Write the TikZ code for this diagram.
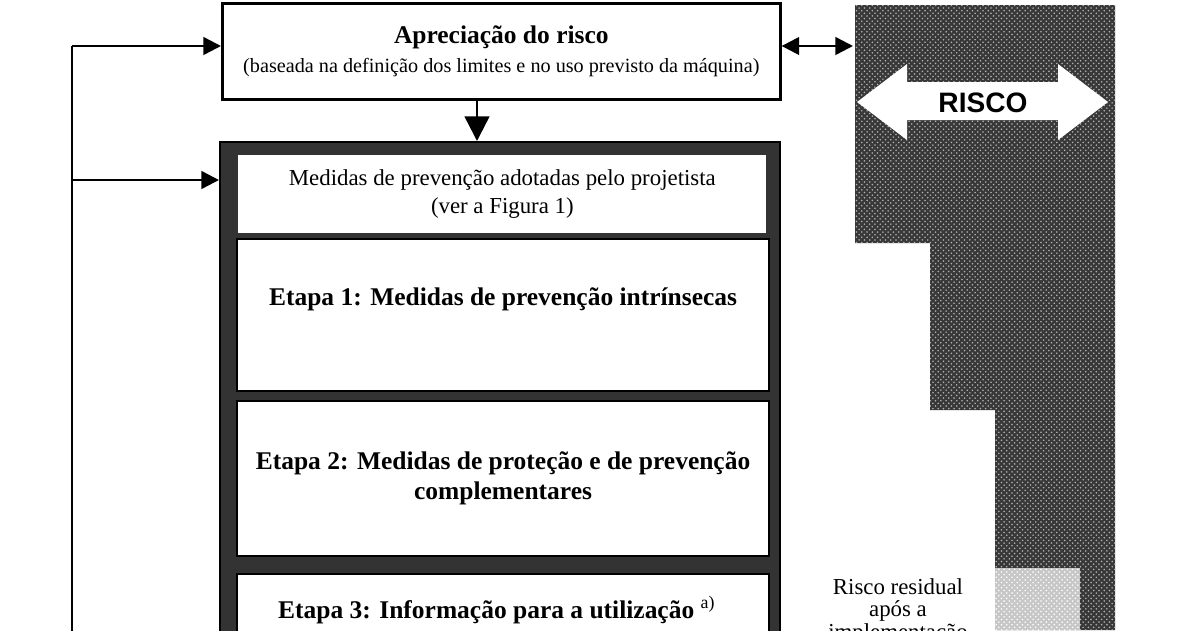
\documentclass[tikz,border=0pt]{standalone}
\usepackage{fontspec}
\setmainfont{Liberation Serif}
\newfontfamily\riscofont{Liberation Sans}
\usetikzlibrary{arrows.meta,patterns}
\begin{document}
\begin{tikzpicture}[x=0.02cm,y=-0.02cm,
  inbox/.style={draw=black,line width=1.2pt,fill=white,minimum width=532*0.02cm,inner sep=0pt},
  conn/.style={line width=1.4pt,-{Triangle[length=10pt,width=10pt]}},
  hatch/.style={fill=black!78}]
\useasboundingbox (0,0) rectangle (1200,630);
\fill[white] (0,0) rectangle (1200,630);
% hatched risk
\fill[hatch] (855,5) -- (1115,5) -- (1115,630) -- (995,630) -- (995,410) -- (930,410) -- (930,243) -- (855,243) -- cycle;
\fill[pattern=crosshatch dots,pattern color=white!70!black] (855,5) -- (1115,5) -- (1115,630) -- (995,630) -- (995,410) -- (930,410) -- (930,243) -- (855,243) -- cycle;
\fill[black!22] (995,568) rectangle (1080,630);
\fill[pattern=crosshatch dots,pattern color=white] (995,568) rectangle (1080,630);
% RISCO arrow
\fill[white] (857,102) -- (907,64) -- (907,82) -- (1058,82) -- (1058,64) -- (1108,102) -- (1058,140) -- (1058,120) -- (907,120) -- (907,140) -- cycle;
\node[font=\riscofont\bfseries\fontsize{16}{20}\selectfont] (risco) at (983,103) {RISCO};
\coordinate (hatchL) at (853,46);
% top box
\node[draw,line width=1.5pt,fill=white,minimum width=558*0.02cm,minimum height=96*0.02cm,anchor=north west,inner sep=0pt,align=center] (apr) at (221,2)
 {{\bfseries\fontsize{14.5}{17}\selectfont Apreciação do risco}\\[4pt]{\fontsize{11.5}{14}\selectfont(baseada na definição dos limites e no uso previsto da máquina)}};
% outer dark box
\fill[black!80,draw=black,line width=1pt] (220,142) rectangle (780,640);
\node[fill=white,minimum width=528*0.02cm,minimum height=78*0.02cm,anchor=north west,inner sep=0pt,align=center,font=\fontsize{13}{16}\selectfont] (med) at (238,155)
 {Medidas de prevenção adotadas pelo projetista\\(ver a Figura 1)};
\node[inbox,minimum height=152*0.02cm,anchor=north west,align=center,font=\bfseries\fontsize{14.5}{21}\selectfont] (e1) at (236,238) {Etapa 1: Medidas de prevenção intrínsecas\\[0pt]};
\node[inbox,minimum height=155*0.02cm,anchor=north west,align=center,font=\bfseries\fontsize{14.5}{17}\selectfont] (e2) at (236,400) {Etapa 2: Medidas de proteção e de prevenção\\complementares};
\node[inbox,minimum height=70*0.02cm,anchor=north west] (e3) at (236,573) {};
\node[anchor=west,font=\bfseries\fontsize{14.5}{21}\selectfont] (e3t) at (272,610) {Etapa 3: Informação para a utilização \textsuperscript{\mdseries a)}};
% connectors
\coordinate (aprb) at (477,98);
\draw[line width=1.4pt,-{Triangle[length=14pt,width=14pt]}] (aprb) -- (477,141);
\coordinate (fb0) at (72,640);
\coordinate (fb1) at (72,46);
\coordinate (fb2) at (72,180);
\draw[line width=1.4pt] (fb0) -- (fb1);
\draw[conn] (fb1) -- (apr.west |- fb1);
\draw[conn] (fb2) -- (219,180);
\draw[line width=1.4pt,{Triangle[length=10pt,width=10pt]}-{Triangle[length=10pt,width=10pt]}] (apr.east |- hatchL) -- (hatchL);
% residual text
\node[align=center,font=\fontsize{13}{13}\selectfont,anchor=north] (res) at (898,572) {Risco residual\\após a\\implementação};
\end{tikzpicture}
\end{document}
